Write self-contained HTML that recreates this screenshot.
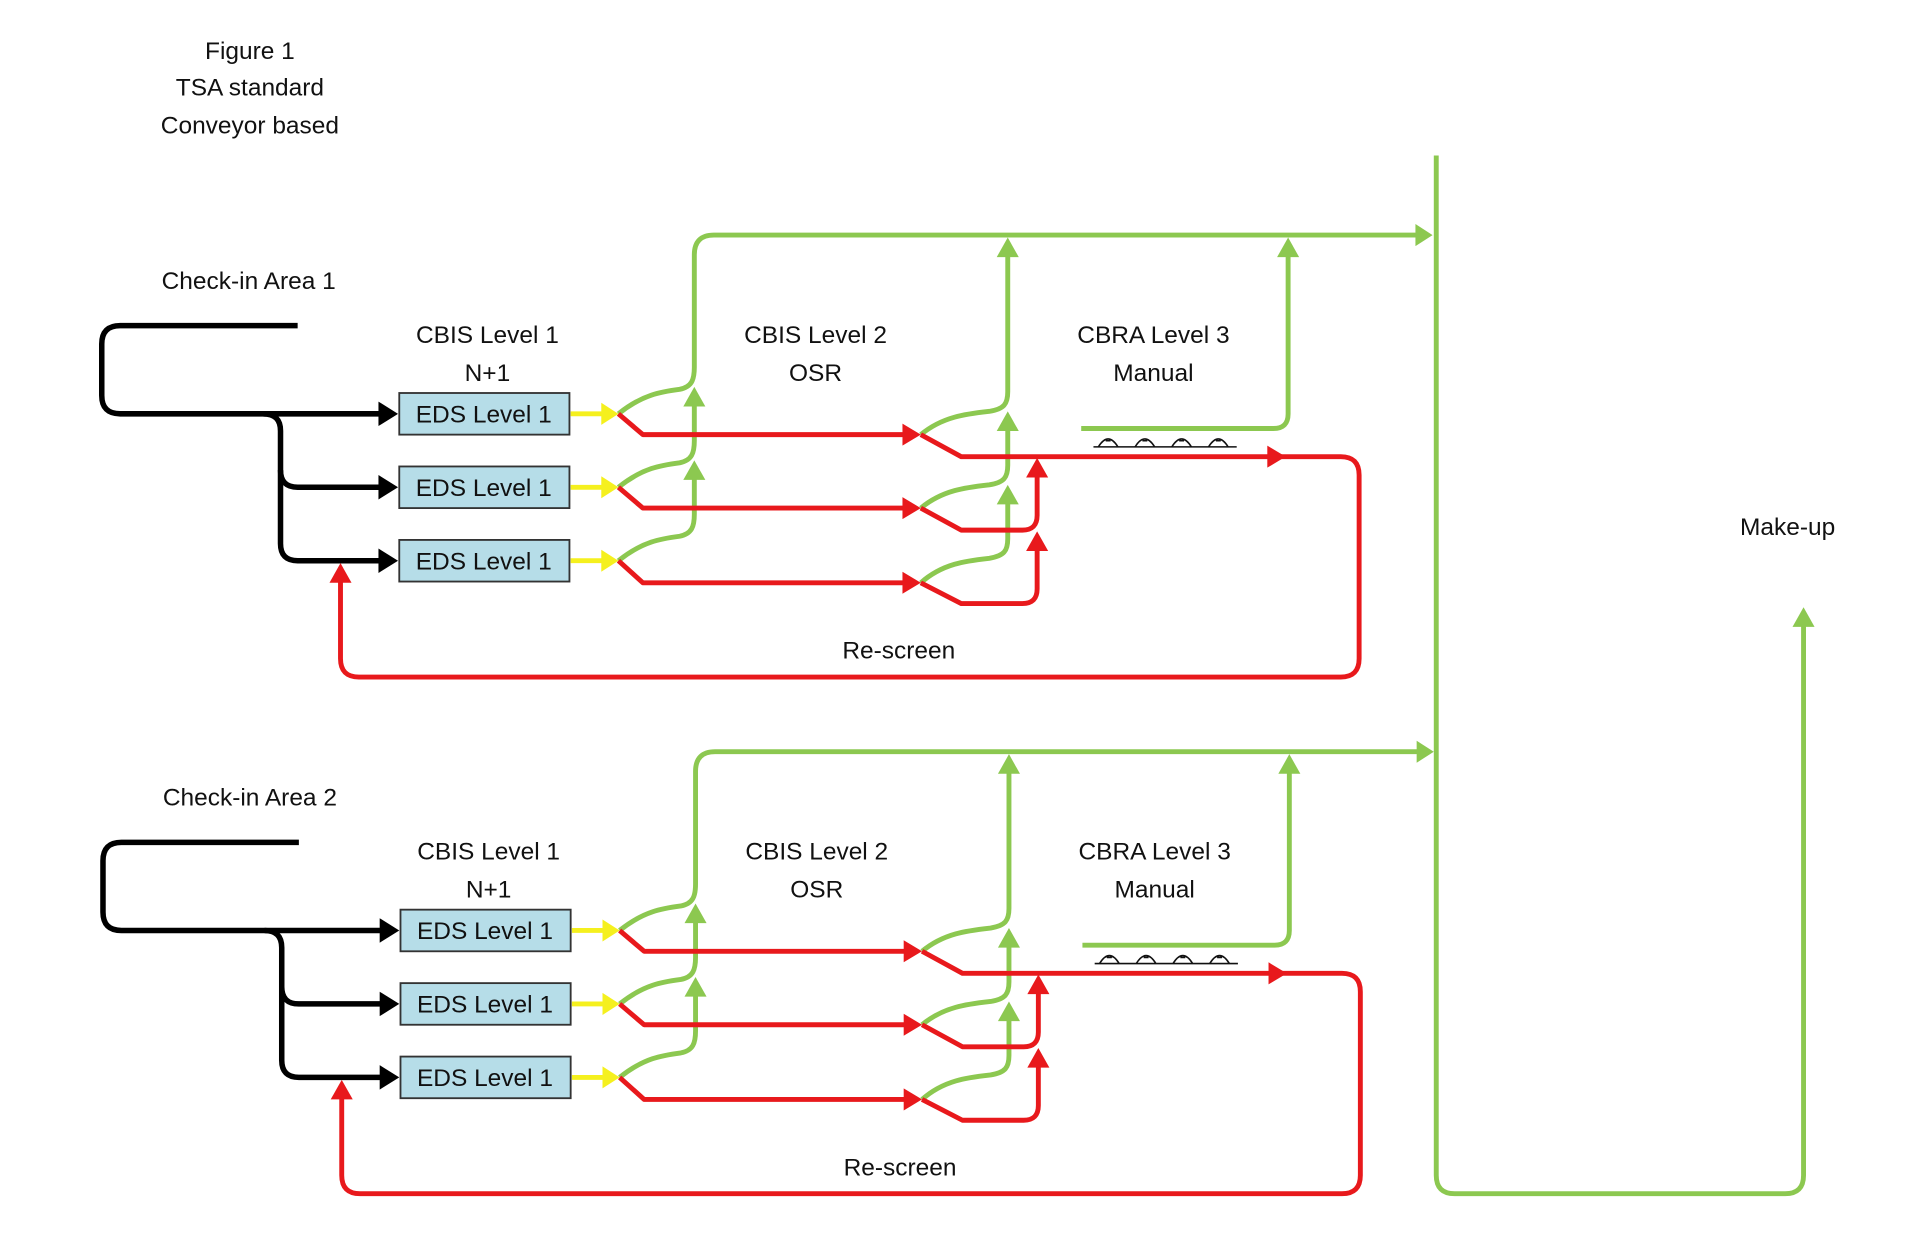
<!DOCTYPE html>
<html><head><meta charset="utf-8"><style>html,body{margin:0;padding:0;background:#fff;width:1920px;height:1239px;overflow:hidden}svg{display:block}</style></head>
<body>
<svg width="1920" height="1239" viewBox="0 0 1568 1012" xmlns="http://www.w3.org/2000/svg" style="font-family:'Liberation Sans',sans-serif;font-size:20px">
<g>
<g fill="none" stroke-linejoin="round">
<g stroke="#8cc850" stroke-width="4">
<path d="M505,338 C525,322 540,320 555,318 C565,316 567,310 567,300 L567,208 Q567,192 583,192 L1158,192"/>
<path d="M505,398 C525,382 540,380 555,378 C565,376 567,370 567,360 L567,330"/>
<path d="M505,458 C525,442 540,440 555,438 C565,436 567,430 567,420 L567,390"/>
<path d="M752,355 C770,340 790,338 808,336 C820,334 823,330 823,320 L823,207"/>
<path d="M752,415 C770,400 790,398 808,396 C820,394 823,390 823,380 L823,350"/>
<path d="M752,476 C770,460 790,458 808,456 C820,454 823,450 823,440 L823,410"/>
<path d="M883,350 L1040,350 Q1052,350 1052,338 L1052,207"/>
</g>
<g stroke="#e8191c" stroke-width="4">
<path d="M505,338 L525,355 L740,355"/>
<path d="M505,398 L525,415 L740,415"/>
<path d="M505,458 L525,476 L740,476"/>
<path d="M752,355 L785,373 L1038,373"/>
<path d="M752,415 L785,433 L835,433 Q847,433 847,421 L847,387"/>
<path d="M752,476 L785,493 L835,493 Q847,493 847,481 L847,447"/>
<path d="M1040,373 L1095,373 Q1110,373 1110,388 L1110,538 Q1110,553 1095,553 L293,553 Q278,553 278,538 L278,472"/>
</g>
<g stroke="#f5f01e" stroke-width="4">
<path d="M466,338 L493,338"/><path d="M466,398 L493,398"/><path d="M466,458 L493,458"/>
</g>
<g stroke="#000" stroke-width="4.5">
<path d="M243,266 L98,266 Q83,266 83,281 L83,323 Q83,338 98,338 L311,338"/>
<path d="M215,338 Q229,338 229,352 L229,384 Q229,398 243,398 L311,398"/>
<path d="M229,384 L229,444 Q229,458 243,458 L311,458"/>
</g>
<g stroke="#111" stroke-width="1.3">
<path d="M893,365 L1010,365"/>
<path d="M897,365 Q905,352 913,365 M903,360 L907,360 M927,365 Q935,352 943,365 M933,360 L937,360 M957,365 Q965,352 973,365 M963,360 L967,360 M987,365 Q995,352 1003,365 M993,360 L997,360"/>
</g>
</g>
<g fill="#000">
<polygon points="325,338 309,328 309,348"/><polygon points="325,398 309,388 309,408"/><polygon points="325,458 309,448 309,468"/>
</g>
<g fill="#f5f01e">
<polygon points="505,338 491,329 491,347"/><polygon points="505,398 491,389 491,407"/><polygon points="505,458 491,449 491,467"/>
</g>
<g fill="#8cc850">
<polygon points="1170,192 1156,183 1156,201"/>
<polygon points="567,316 558,332 576,332"/><polygon points="567,376 558,392 576,392"/>
<polygon points="823,194 814,210 832,210"/><polygon points="823,336 814,352 832,352"/><polygon points="823,396 814,412 832,412"/>
<polygon points="1052,194 1043,210 1061,210"/>
</g>
<g fill="#e8191c">
<polygon points="752,355 737,346 737,364"/><polygon points="752,415 737,406 737,424"/><polygon points="752,476 737,467 737,485"/>
<polygon points="1050,373 1035,364 1035,382"/>
<polygon points="847,374 838,390 856,390"/><polygon points="847,434 838,450 856,450"/>
<polygon points="278,460 269,476 287,476"/>
</g>
<g fill="#b6dde8" stroke="#333" stroke-width="1.5">
<rect x="326" y="321" width="139" height="34"/><rect x="326" y="381" width="139" height="34"/><rect x="326" y="441" width="139" height="34"/>
</g>
<g text-anchor="middle" fill="#111">
<text x="395" y="345">EDS Level 1</text><text x="395" y="405">EDS Level 1</text><text x="395" y="465">EDS Level 1</text>
<text x="398" y="280">CBIS Level 1</text><text x="398" y="311">N+1</text>
<text x="666" y="280">CBIS Level 2</text><text x="666" y="311">OSR</text>
<text x="942" y="280">CBRA Level 3</text><text x="942" y="311">Manual</text>
<text x="734" y="538">Re-screen</text>
<text x="203" y="236">Check-in Area 1</text>
</g>
</g>
<g transform="translate(1,422)">
<g fill="none" stroke-linejoin="round">
<g stroke="#8cc850" stroke-width="4">
<path d="M505,338 C525,322 540,320 555,318 C565,316 567,310 567,300 L567,208 Q567,192 583,192 L1158,192"/>
<path d="M505,398 C525,382 540,380 555,378 C565,376 567,370 567,360 L567,330"/>
<path d="M505,458 C525,442 540,440 555,438 C565,436 567,430 567,420 L567,390"/>
<path d="M752,355 C770,340 790,338 808,336 C820,334 823,330 823,320 L823,207"/>
<path d="M752,415 C770,400 790,398 808,396 C820,394 823,390 823,380 L823,350"/>
<path d="M752,476 C770,460 790,458 808,456 C820,454 823,450 823,440 L823,410"/>
<path d="M883,350 L1040,350 Q1052,350 1052,338 L1052,207"/>
</g>
<g stroke="#e8191c" stroke-width="4">
<path d="M505,338 L525,355 L740,355"/>
<path d="M505,398 L525,415 L740,415"/>
<path d="M505,458 L525,476 L740,476"/>
<path d="M752,355 L785,373 L1038,373"/>
<path d="M752,415 L785,433 L835,433 Q847,433 847,421 L847,387"/>
<path d="M752,476 L785,493 L835,493 Q847,493 847,481 L847,447"/>
<path d="M1040,373 L1095,373 Q1110,373 1110,388 L1110,538 Q1110,553 1095,553 L293,553 Q278,553 278,538 L278,472"/>
</g>
<g stroke="#f5f01e" stroke-width="4">
<path d="M466,338 L493,338"/><path d="M466,398 L493,398"/><path d="M466,458 L493,458"/>
</g>
<g stroke="#000" stroke-width="4.5">
<path d="M243,266 L98,266 Q83,266 83,281 L83,323 Q83,338 98,338 L311,338"/>
<path d="M215,338 Q229,338 229,352 L229,384 Q229,398 243,398 L311,398"/>
<path d="M229,384 L229,444 Q229,458 243,458 L311,458"/>
</g>
<g stroke="#111" stroke-width="1.3">
<path d="M893,365 L1010,365"/>
<path d="M897,365 Q905,352 913,365 M903,360 L907,360 M927,365 Q935,352 943,365 M933,360 L937,360 M957,365 Q965,352 973,365 M963,360 L967,360 M987,365 Q995,352 1003,365 M993,360 L997,360"/>
</g>
</g>
<g fill="#000">
<polygon points="325,338 309,328 309,348"/><polygon points="325,398 309,388 309,408"/><polygon points="325,458 309,448 309,468"/>
</g>
<g fill="#f5f01e">
<polygon points="505,338 491,329 491,347"/><polygon points="505,398 491,389 491,407"/><polygon points="505,458 491,449 491,467"/>
</g>
<g fill="#8cc850">
<polygon points="1170,192 1156,183 1156,201"/>
<polygon points="567,316 558,332 576,332"/><polygon points="567,376 558,392 576,392"/>
<polygon points="823,194 814,210 832,210"/><polygon points="823,336 814,352 832,352"/><polygon points="823,396 814,412 832,412"/>
<polygon points="1052,194 1043,210 1061,210"/>
</g>
<g fill="#e8191c">
<polygon points="752,355 737,346 737,364"/><polygon points="752,415 737,406 737,424"/><polygon points="752,476 737,467 737,485"/>
<polygon points="1050,373 1035,364 1035,382"/>
<polygon points="847,374 838,390 856,390"/><polygon points="847,434 838,450 856,450"/>
<polygon points="278,460 269,476 287,476"/>
</g>
<g fill="#b6dde8" stroke="#333" stroke-width="1.5">
<rect x="326" y="321" width="139" height="34"/><rect x="326" y="381" width="139" height="34"/><rect x="326" y="441" width="139" height="34"/>
</g>
<g text-anchor="middle" fill="#111">
<text x="395" y="345">EDS Level 1</text><text x="395" y="405">EDS Level 1</text><text x="395" y="465">EDS Level 1</text>
<text x="398" y="280">CBIS Level 1</text><text x="398" y="311">N+1</text>
<text x="666" y="280">CBIS Level 2</text><text x="666" y="311">OSR</text>
<text x="942" y="280">CBRA Level 3</text><text x="942" y="311">Manual</text>
<text x="734" y="538">Re-screen</text>
<text x="203" y="236">Check-in Area 2</text>
</g>
</g>
<g text-anchor="middle" fill="#111">
<text x="204" y="48">Figure 1</text>
<text x="204" y="78">TSA standard</text>
<text x="204" y="109">Conveyor based</text>
<text x="1460" y="437">Make-up</text>
</g>
<path d="M1173,127 L1173,960 Q1173,975 1188,975 L1458,975 Q1473,975 1473,960 L1473,510" fill="none" stroke="#8cc850" stroke-width="4"/>
<polygon points="1473,496 1464,512 1482,512" fill="#8cc850"/>
</svg>
</body></html>
